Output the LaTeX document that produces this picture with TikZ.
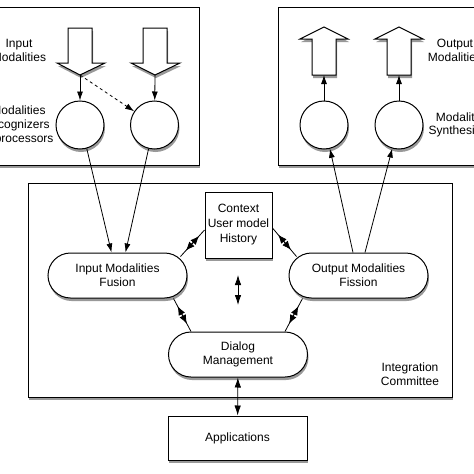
\documentclass[tikz,border=0pt]{standalone}
\usepackage{fontspec}
\setmainfont{Liberation Sans}
\usetikzlibrary{arrows.meta,shadows,decorations.markings,calc}
\begin{document}
\begin{tikzpicture}[x=1pt,y=-1pt,font=\fontsize{12}{14}\selectfont,
  shad/.style={drop shadow={shadow xshift=1pt,shadow yshift=-3pt,opacity=0.4,fill=black}},
  frame/.style={draw,line width=1pt,fill=white,shad,inner sep=0pt},
  circ/.style={circle,draw,line width=1pt,fill=white,minimum size=48pt,inner sep=0pt,shad},
  pill/.style={draw,line width=1pt,fill=white,rounded corners=22.5pt,minimum width=139pt,minimum height=45pt,align=center,inner sep=0pt,shad},
  blockarr/.style={draw,line width=1pt,fill=white,line join=miter,shad},
  conn/.style={line width=0.8pt,-{Latex[length=9pt,width=6pt]}},
  dbl/.style={line width=0.8pt,{Latex[length=10pt,width=6.5pt]}-{Latex[length=10pt,width=6.5pt]}},
  midarr/.style={line width=0.8pt,postaction={decorate},
    decoration={markings,mark=at position 0.5 with {\draw[line width=0.8pt,{Latex[length=9pt,width=7pt]}-{Latex[length=9pt,width=7pt]}] (-10pt,0pt)--(10pt,0pt);}}},
  lbl/.style={align=center,inner sep=0pt}]
\clip (0,0) rectangle (474,474);
\fill[white] (0,0) rectangle (474,474);

% frames
\node[frame,minimum width=209pt,minimum height=158pt] (inbox) at (94.5,86) {};
\node[frame,minimum width=212pt,minimum height=158pt] (outbox) at (384,86) {};
\node[frame,minimum width=424pt,minimum height=214pt] (integ) at (240,290) {};

% block arrows
\path[blockarr] (68,28) -- (92,28) -- (92,63) -- (105,63) -- (80,75) -- (57,63) -- (68,63) -- cycle;
\path[blockarr] (143,28) -- (167,28) -- (167,63) -- (180,63) -- (155,75) -- (131,63) -- (143,63) -- cycle;
\path[blockarr] (312,75) -- (336,75) -- (336,39) -- (348,39) -- (324,27) -- (300,39) -- (312,39) -- cycle;
\path[blockarr] (387,75) -- (411,75) -- (411,39) -- (423,39) -- (399,27) -- (375,39) -- (387,39) -- cycle;
\coordinate (in1tip) at (80,75);
\coordinate (in2tip) at (155,75);
\coordinate (out1base) at (324,75);
\coordinate (out2base) at (399,75);

% circles
\node[circ] (c1) at (80,125) {};
\node[circ] (c2) at (154.5,125) {};
\node[circ] (c3) at (324,125) {};
\node[circ] (c4) at (399,125) {};

% labels
\node[lbl] (lblin) at (19,50) {Input\\Modalities};
\node[lbl] (lblrec) at (18.5,125) {Modalities\\recognizers\\\& processors};
\node[lbl] (lblout) at (455,50) {Output\\Modalities};
\node[lbl,font=\fontsize{12}{13}\selectfont] (lblsyn) at (463,125) {Modalities\\Synthesizers};
\node[lbl] (lblint) at (410,374) {Integration\\Committee};

% inner nodes
\node[frame,minimum width=67pt,minimum height=66pt,align=center,font=\fontsize{12}{15}\selectfont] (ctx) at (238.5,225) {Context\\User model\\History};
\node[pill] (fus) at (117.5,275.5) {Input Modalities\\Fusion};
\node[pill] (fis) at (358.5,275.5) {Output Modalities\\Fission};
\node[pill] (dm) at (238,354.5) {Dialog\\Management};
\node[frame,minimum width=139pt,minimum height=44pt] (app) at (237.5,438) {Applications};

% connectors top
\draw[conn] (in1tip) -- (c1);
\draw[conn] (in2tip) -- (c2);
\draw[conn,dashed] (in1tip) -- (c2.146);
\draw[conn] (c3) -- (out1base);
\draw[conn] (c4) -- (out2base);

% to fusion / from fission
\draw[conn] (c1.-74) -- ([xshift=-6pt]fus.north);
\draw[conn] (c2.-104) -- ([xshift=8pt]fus.north);
\draw[conn] ([xshift=-5.5pt]fis.north) -- (c3.-76);
\draw[conn] ([xshift=6.5pt]fis.north) -- (c4.-106);

% double arrows
\draw[midarr] ([yshift=-5pt]ctx.west) -- ([shift={(-7pt,-4pt)}]fus.north east);
\draw[midarr] ([yshift=-3pt]ctx.east) -- ([shift={(8pt,-4pt)}]fis.north west);
\draw[midarr] ([xshift=-14pt]fus.south east) -- ([xshift=23pt]dm.north west);
\draw[midarr] ([xshift=14pt]fis.south west) -- ([xshift=-23pt]dm.north east);
\coordinate (m1) at (238,275);
\coordinate (m2) at (238,305);
\draw[dbl] (m1) -- (m2);
\draw[dbl] (dm) -- (app);
\end{tikzpicture}
\end{document}
